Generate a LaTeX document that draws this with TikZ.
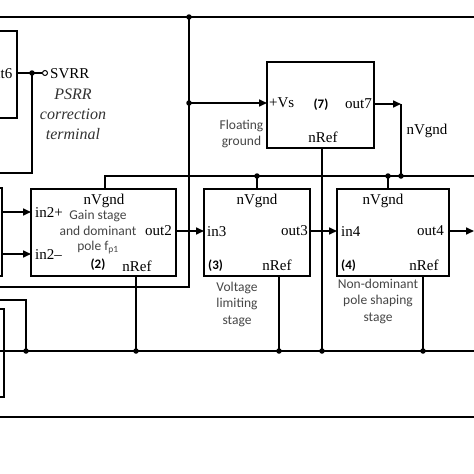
\documentclass[tikz,border=0pt]{standalone}
\usepackage{fontspec}
\setmainfont{Liberation Serif}
\newfontfamily\descfont{Carlito}
\usetikzlibrary{arrows.meta}
\definecolor{descgray}{RGB}{70,70,70}
\begin{document}
\begin{tikzpicture}[x=1pt,y=-1pt,
  wire/.style={line width=1.6pt},
  arr/.style={wire,-{Triangle[length=8pt,width=7pt]}},
  blk/.style={draw,line width=2.4pt,inner sep=0pt,outer sep=0pt},
  port/.style={font=\fontsize{15}{15}\selectfont,inner sep=0pt},
  desc/.style={font=\descfont\fontsize{13.5}{16}\selectfont,text=descgray,inner sep=0pt},
  num/.style={font=\descfont\bfseries\fontsize{13}{13}\selectfont,inner sep=0pt},
  note/.style={font=\itshape\fontsize{16}{16}\selectfont,text=black!80,inner sep=0pt},
  dot/.style={circle,fill,inner sep=0pt,minimum size=5.5pt},
  term/.style={circle,draw,line width=1pt,fill=white,inner sep=0pt,minimum size=5pt}]
\useasboundingbox (0,0) rectangle (474,474);
\fill[white] (0,0) rectangle (474,474);
\clip (0,0) rectangle (474,474);

% blocks
\node[blk,minimum width=37pt,minimum height=87pt] (b6) at (-1.5,74.5) {};
\node[blk,minimum width=24pt,minimum height=88pt] (b1) at (-10,232) {};
\node[blk,minimum width=24pt,minimum height=88pt] (b5) at (-8,353) {};
\node[blk,minimum width=145pt,minimum height=87pt] (b2) at (103.5,232.5) {};
\node[blk,minimum width=106pt,minimum height=87pt] (b3) at (257,232.5) {};
\node[blk,minimum width=112pt,minimum height=87pt] (b4) at (393,232.5) {};
\node[blk,minimum width=107pt,minimum height=86pt] (b7) at (320.5,105) {};

% coordinates
\coordinate (topL) at (0,17);
\coordinate (topR) at (474,17);
\coordinate (cornA) at (189,287);
\coordinate (leftA) at (0,287);
\coordinate (c7) at (401,104);
\coordinate (g2) at (105,176);
\coordinate (gR) at (474,176);
\coordinate (botL) at (0,351);
\coordinate (botR) at (474,351);
\coordinate (lnL) at (0,417);
\coordinate (lnR) at (474,417);
\coordinate (fbL) at (0,300);
\coordinate (fbC) at (26,300);
\coordinate (s6c) at (32,173);
\coordinate (s6L) at (0,173);
\coordinate (o4) at (474,231);

% junctions
\node[dot] (jTop) at (189,17) {};
\node[dot] (jVs) at (189,103) {};
\node[dot] (jn7) at (401,176) {};
\node[dot] (jg3) at (257,176) {};
\node[dot] (jg4) at (388,176) {};
\node[dot] (jr1) at (26,351) {};
\node[dot] (jr2) at (136,351) {};
\node[dot] (jr3) at (279,351) {};
\node[dot] (jr7) at (322,351) {};
\node[dot] (jr4) at (423,351) {};
\node[dot] (j6) at (32,73) {};
\node[term] (svrr) at (45,73) {};

% wires
\draw[wire] (topL) -- (topR);
\draw[wire] (lnL) -- (lnR);
\draw[wire] (jTop.center) -- (cornA) -- (leftA);
\draw[arr] (jVs.center) -- (jVs.center -| b7.west);
\draw[arr] (b7.east |- c7) -- (c7);
\draw[wire] (c7) -- (jn7.center);
\draw[wire] (g2 |- b2.north) -- (g2) -- (gR);
\draw[wire] (jg3.center) -- (jg3.center |- b3.north);
\draw[wire] (jg4.center) -- (jg4.center |- b4.north);
\draw[wire] (botL) -- (botR);
\draw[wire] (jr2.center |- b2.south) -- (jr2.center);
\draw[wire] (jr3.center |- b3.south) -- (jr3.center);
\draw[wire] (jr4.center |- b4.south) -- (jr4.center);
\draw[wire] (jr7.center |- b7.south) -- (jr7.center);
\draw[wire] (fbL) -- (fbC) -- (jr1.center);
\draw[wire] (svrr.west -| b6.east) -- (svrr.west);
\draw[wire] (j6.center) -- (s6c) -- (s6L);
\draw[arr] (b1.east |- 0,212) -- (b2.west |- 0,212);
\draw[arr] (b1.east |- 0,254) -- (b2.west |- 0,254);
\draw[arr] (b2.east |- 0,231) -- (b3.west |- 0,231);
\draw[arr] (b3.east |- 0,231) -- (b4.west |- 0,231);
\draw[arr] (b4.east |- o4) -- (o4);

% block 6 text
\node[port,anchor=base east] (t6) at (12.5,78) {out6};
\node[port,anchor=base west] (tsv) at (50,78) {SVRR};
\node[note,anchor=base] (tps) at (73,99) {PSRR};
\node[note,anchor=base] (tco) at (73,119) {correction};
\node[note,anchor=base] (tte) at (73,139) {terminal};

% block 7 text
\node[port,anchor=base west] (t7a) at (269,107) {+Vs};
\node[num,anchor=base] (t7b) at (321,108) {(7)};
\node[port,anchor=base east] (t7c) at (372,108) {out7};
\node[port,anchor=base] (t7d) at (323,142) {nRef};
\node[port,anchor=base] (t7e) at (427,134) {nVgnd};
\node[desc,anchor=base] (tfl) at (241.5,129) {Floating};
\node[desc,anchor=base] (tgr) at (241.5,145) {ground};

% block 2 text
\node[port,anchor=base] (t2a) at (104,204) {nVgnd};
\node[port,anchor=base west] (t2b) at (35,217) {in2+};
\node[desc,anchor=base] (t2c) at (98,219) {Gain stage};
\node[desc,anchor=base] (t2d) at (98,235) {and dominant};
\node[port,anchor=base east] (t2e) at (172,235) {out2};
\node[desc,anchor=base] (t2f) at (98,250) {pole f\textsubscript{p1}};
\node[port,anchor=base west] (t2g) at (35,259) {in2--};
\node[num,anchor=base] (t2h) at (98,268) {(2)};
\node[port,anchor=base] (t2i) at (137,271) {nRef};

% block 3 text
\node[port,anchor=base] (t3a) at (257,204) {nVgnd};
\node[port,anchor=base west] (t3b) at (207,236) {in3};
\node[port,anchor=base east] (t3c) at (308,235) {out3};
\node[num,anchor=base west] (t3d) at (208,269) {(3)};
\node[port,anchor=base] (t3e) at (277,270) {nRef};
\node[desc,anchor=base] (t3f) at (237,291) {Voltage};
\node[desc,anchor=base] (t3g) at (237,307) {limiting};
\node[desc,anchor=base] (t3h) at (237,324) {stage};

% block 4 text
\node[port,anchor=base] (t4a) at (383,204) {nVgnd};
\node[port,anchor=base west] (t4b) at (341,236) {in4};
\node[port,anchor=base east] (t4c) at (444,235) {out4};
\node[num,anchor=base west] (t4d) at (341,269) {(4)};
\node[port,anchor=base] (t4e) at (424,270) {nRef};
\node[desc,anchor=base] (t4f) at (378,288) {Non-dominant};
\node[desc,anchor=base] (t4g) at (378,304) {pole shaping};
\node[desc,anchor=base] (t4h) at (378,321) {stage};
\end{tikzpicture}
\end{document}
